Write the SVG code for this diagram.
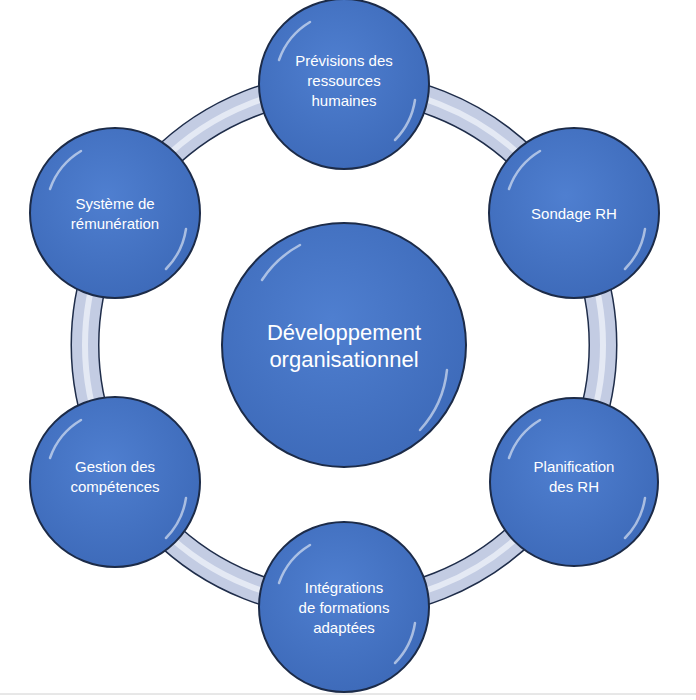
<svg xmlns="http://www.w3.org/2000/svg" width="696" height="700" viewBox="0 0 696 700">
<defs>
<radialGradient id="g" cx="45%" cy="40%" r="60%">
<stop offset="0" stop-color="#4f7fd0"/><stop offset="1" stop-color="#3e6bba"/>
</radialGradient>
<style>
.n{fill:url(#g);stroke:#1c2b48;stroke-width:2}
.hl{fill:none;stroke:#ffffff;stroke-opacity:0.55;stroke-width:2.5;stroke-linecap:round}
text{font-family:"Liberation Sans",Arial,sans-serif;fill:#fff;text-anchor:middle;font-size:15px}
.c{font-size:22px}
</style>
</defs>
<rect width="696" height="700" fill="#fff"/>
<line x1="0" y1="694" x2="696" y2="694" stroke="#d0d0d0"/>
<g id="connectors">
<circle cx="344" cy="345" r="259" fill="none" stroke="#1f2d4a" stroke-width="29"/>
<circle cx="344" cy="345" r="259" fill="none" stroke="#c3cce3" stroke-width="26"/>
<circle cx="344" cy="345" r="259" fill="none" stroke="#e4e9f4" stroke-width="6"/>
</g>
<g id="center"><circle class="n" cx="344" cy="345" r="122"/><path class="hl" d="M262 280 A105 105 0 0 1 300 245"/><path class="hl" d="M447 370 A105 105 0 0 1 420 430"/><text class="c" x="344" y="340">Développement</text><text class="c" x="344" y="367">organisationnel</text></g>
<g id="n1"><circle class="n" cx="344" cy="84" r="85"/><path class="hl" d="M279 60 A72 72 0 0 1 310 22"/><path class="hl" d="M415 100 A72 72 0 0 1 395 140"/><text x="344" y="66">Prévisions des</text><text x="344" y="86">ressources</text><text x="344" y="106">humaines</text></g>
<g id="n2"><circle class="n" cx="574" cy="213" r="85"/><path class="hl" d="M509 189 A72 72 0 0 1 540 151"/><path class="hl" d="M645 229 A72 72 0 0 1 625 269"/><text x="574" y="219">Sondage RH</text></g>
<g id="n3"><circle class="n" cx="574" cy="482" r="84"/><path class="hl" d="M509 458 A72 72 0 0 1 540 420"/><path class="hl" d="M645 498 A72 72 0 0 1 625 538"/><text x="574" y="472">Planification</text><text x="574" y="492">des RH</text></g>
<g id="n4"><circle class="n" cx="344" cy="607" r="85"/><path class="hl" d="M279 583 A72 72 0 0 1 310 545"/><path class="hl" d="M415 623 A72 72 0 0 1 395 663"/><text x="344" y="593">Intégrations</text><text x="344" y="613">de formations</text><text x="344" y="633">adaptées</text></g>
<g id="n5"><circle class="n" cx="115" cy="482" r="85"/><path class="hl" d="M50 458 A72 72 0 0 1 81 420"/><path class="hl" d="M186 498 A72 72 0 0 1 166 538"/><text x="115" y="472">Gestion des</text><text x="115" y="492">compétences</text></g>
<g id="n6"><circle class="n" cx="115" cy="213" r="85"/><path class="hl" d="M50 189 A72 72 0 0 1 81 151"/><path class="hl" d="M186 229 A72 72 0 0 1 166 269"/><text x="115" y="209">Système de</text><text x="115" y="229">rémunération</text></g>
</svg>
